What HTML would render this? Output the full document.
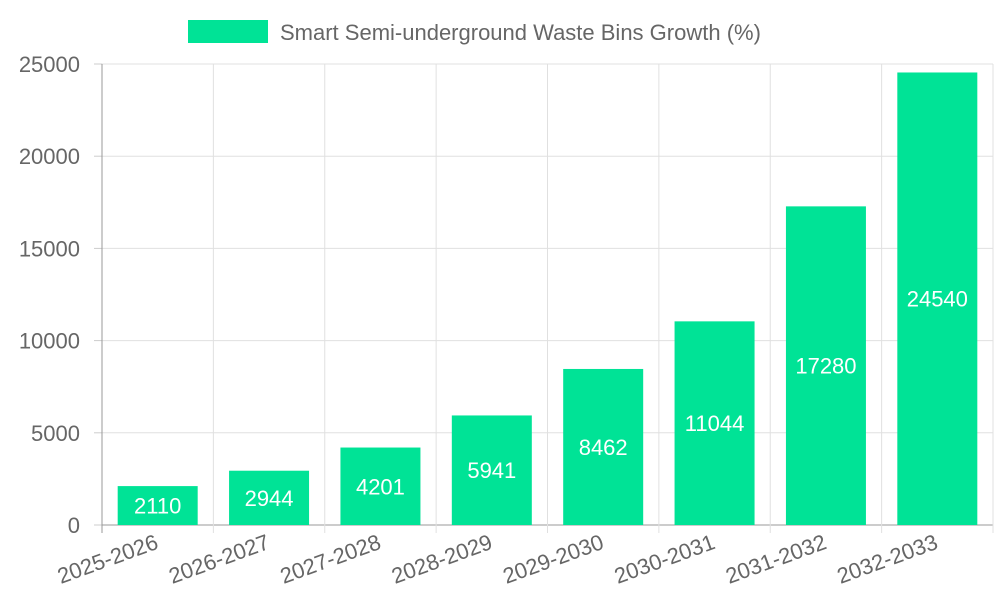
<!DOCTYPE html>
<html><head><meta charset="utf-8"><style>
body{margin:0;background:#fff;}
svg{font-family:"Liberation Sans",sans-serif;}
</style></head><body>
<svg id="c" width="1000" height="600"></svg>
<script>
const categories=["2025-2026","2026-2027","2027-2028","2028-2029","2029-2030","2030-2031","2031-2032","2032-2033"];
const values=[2110,2944,4201,5941,8462,11044,17280,24540];
const yTicks=[0,5000,10000,15000,20000,25000];
const NS="http://www.w3.org/2000/svg";
const svg=document.getElementById('c');
const L=102,R=993,T=64,B=525,yMax=25000;
const y=v=>B-(v/yMax)*(B-T);
const bw=(R-L)/categories.length;
const x=i=>L+bw*i;
function mk(tag,attrs,parent){const e=document.createElementNS(NS,tag);for(const k in attrs)e.setAttribute(k,attrs[k]);(parent||svg).appendChild(e);return e;}
// legend
const lg=mk('g',{});


mk('rect',{x:188,y:20,width:80,height:23,fill:'#00e396'},lg);
const lt=mk('text',{x:280,y:40,'font-size':22,fill:'#666'},lg);lt.textContent="Smart Semi-underground Waste Bins Growth (%)";
// grid
yTicks.forEach(t=>{
 const g=mk('line',{x1:L,x2:R,y1:y(t),y2:y(t),stroke:t===0?'#999':'#e0e0e0','stroke-width':1});
 
 
 mk('line',{x1:L-8,x2:L,y1:y(t),y2:y(t),stroke:'#ccc'});
 const tx=mk('text',{x:80,y:y(t)+8,'font-size':22,fill:'#666','text-anchor':'end'});
 
 
 tx.textContent=t;
});
for(let i=0;i<=categories.length;i++){
 mk('line',{x1:x(i),x2:x(i),y1:T,y2:B+8,stroke:i===0?'#999':'#e0e0e0'});
}
categories.forEach((c,i)=>{
 const cx=x(i)+bw/2, v=values[i];
 const r=mk('rect',{x:cx-40,y:y(v),width:80,height:B-y(v),fill:'#00e396'});
 
 
 const vl=mk('text',{x:cx,y:(y(v)+B)/2+8,'font-size':22,fill:'#fff','text-anchor':'middle'});
 
 
 vl.textContent=v;
 const xl=mk('text',{x:cx+2,y:548,'font-size':22,fill:'#666','text-anchor':'end',transform:`rotate(-20 ${cx+2} 548)`});
 
 
 xl.textContent=c;
});
</script>
</body></html>
